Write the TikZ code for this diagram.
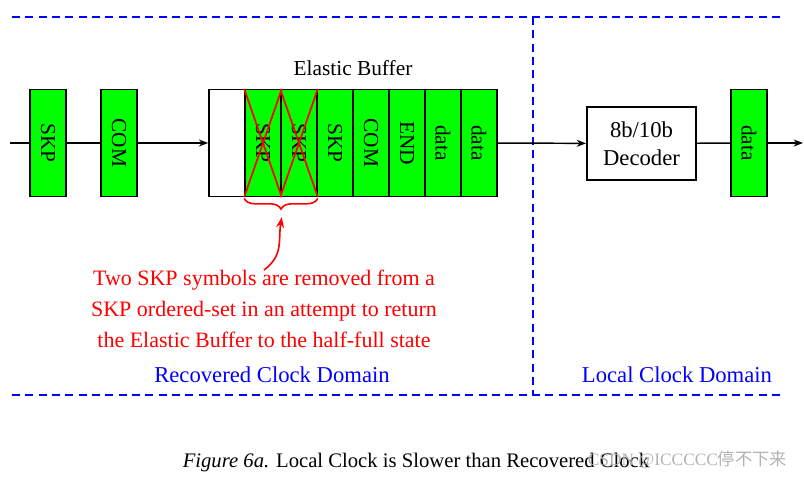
\documentclass[tikz,border=0pt]{standalone}
\usepackage{fontspec}
\setmainfont{Liberation Serif}
\newfontfamily\cjk{Noto Sans CJK SC}
\usetikzlibrary{arrows.meta,decorations.pathreplacing,calc}
\definecolor{cellgreen}{RGB}{0,255,0}
\tikzset{
  cell/.style={draw, line width=1.2pt, fill=cellgreen, minimum width=27pt, minimum height=80pt, inner sep=0pt},
  celltxt/.style={rotate=-90, font=\fontsize{16}{16}\selectfont},
  clkdom/.style={draw=blue, line width=1.1pt, dash pattern=on 6pt off 4pt},
  flow/.style={line width=1.1pt, -{Stealth[length=7pt]}},
}
\begin{document}
\begin{tikzpicture}[x=0.75pt, y=-0.75pt]
\useasboundingbox (0,0) rectangle (804,479);
% clock domains
\draw[clkdom] (12,17) -- (785,17);
\draw[clkdom] (12,395) -- (785,395);
\draw[clkdom] (533,17) -- (533,395);
\node[text=blue, font=\fontsize{17}{17}\selectfont] (rcd) at (272,375) {Recovered Clock Domain};
\node[text=blue, font=\fontsize{17}{17}\selectfont] (lcd) at (677,375) {Local Clock Domain};
% incoming symbols
\coordinate (in) at (10,143);
\node[cell] (s1) at (48,143) {};
\node[celltxt] at (s1) {SKP};
\node[cell] (c1) at (119,143) {};
\node[celltxt] at (c1) {COM};
% elastic buffer
\node[draw, line width=1.2pt, minimum width=216pt, minimum height=80pt, inner sep=0pt] (eb) at (353,143) {};
\node[font=\fontsize{16}{16}\selectfont] (ebl) at (353,68) {Elastic Buffer};
\foreach \t [count=\i] in {SKP,SKP,SKP,COM,END,data,data} {
  \node[cell] (b\i) at ({227+36*\i},143) {};
  \node[celltxt] at (b\i) {\t};
}
\draw[red, line width=1.3pt] (b1.north west) -- (b1.south east) (b1.south west) -- (b1.north east);
\draw[red, line width=1.3pt] (b2.north west) -- (b2.south east) (b2.south west) -- (b2.north east);
\draw[red, line width=1.2pt, decorate, decoration={brace, mirror, amplitude=8pt}]
  ([yshift=-1pt]b1.south west) -- ([yshift=-1pt]b2.south east) coordinate[midway] (bm);
\node[text=red, align=center, font=\fontsize{16.5}{23.5}\selectfont] (note) at (264,309)
  {Two SKP symbols are removed from a\\SKP ordered-set in an attempt to return\\the Elastic Buffer to the half-full state};
\draw[red, line width=1.2pt, -{Stealth[length=8pt]}] (264,270) .. controls (284,255) and (278,240) .. ($(b1.south east)+(0,20)$);
% decoder side
\node[draw, line width=1.2pt, minimum width=82pt, minimum height=55pt, align=center, inner sep=0pt,
  font=\fontsize{17}{21}\selectfont] (dec) at (641.5,143.5) {8b/10b\\Decoder};
\node[cell] (d1) at (749,143) {};
\node[celltxt] at (d1) {data};
\coordinate (out) at (803,143);
% connectors
\draw[line width=1.1pt] (in) -- (s1) -- (c1);
\draw[flow] (c1) -- (eb);
\draw[flow] (b7) -- (dec);
\draw[line width=1.1pt] (dec) -- (d1);
\draw[flow] (d1) -- (out);
% caption
\node[font=\fontsize{15.5}{15.5}\selectfont] (cap) at (416,463) {\textit{Figure 6a.} Local Clock is Slower than Recovered Clock};
\node[text=gray!60, font=\fontsize{13}{13}\selectfont, anchor=east] (wm) at (792,460) {CSDN @ICCCCC{\cjk 停不下来}};
\end{tikzpicture}
\end{document}
